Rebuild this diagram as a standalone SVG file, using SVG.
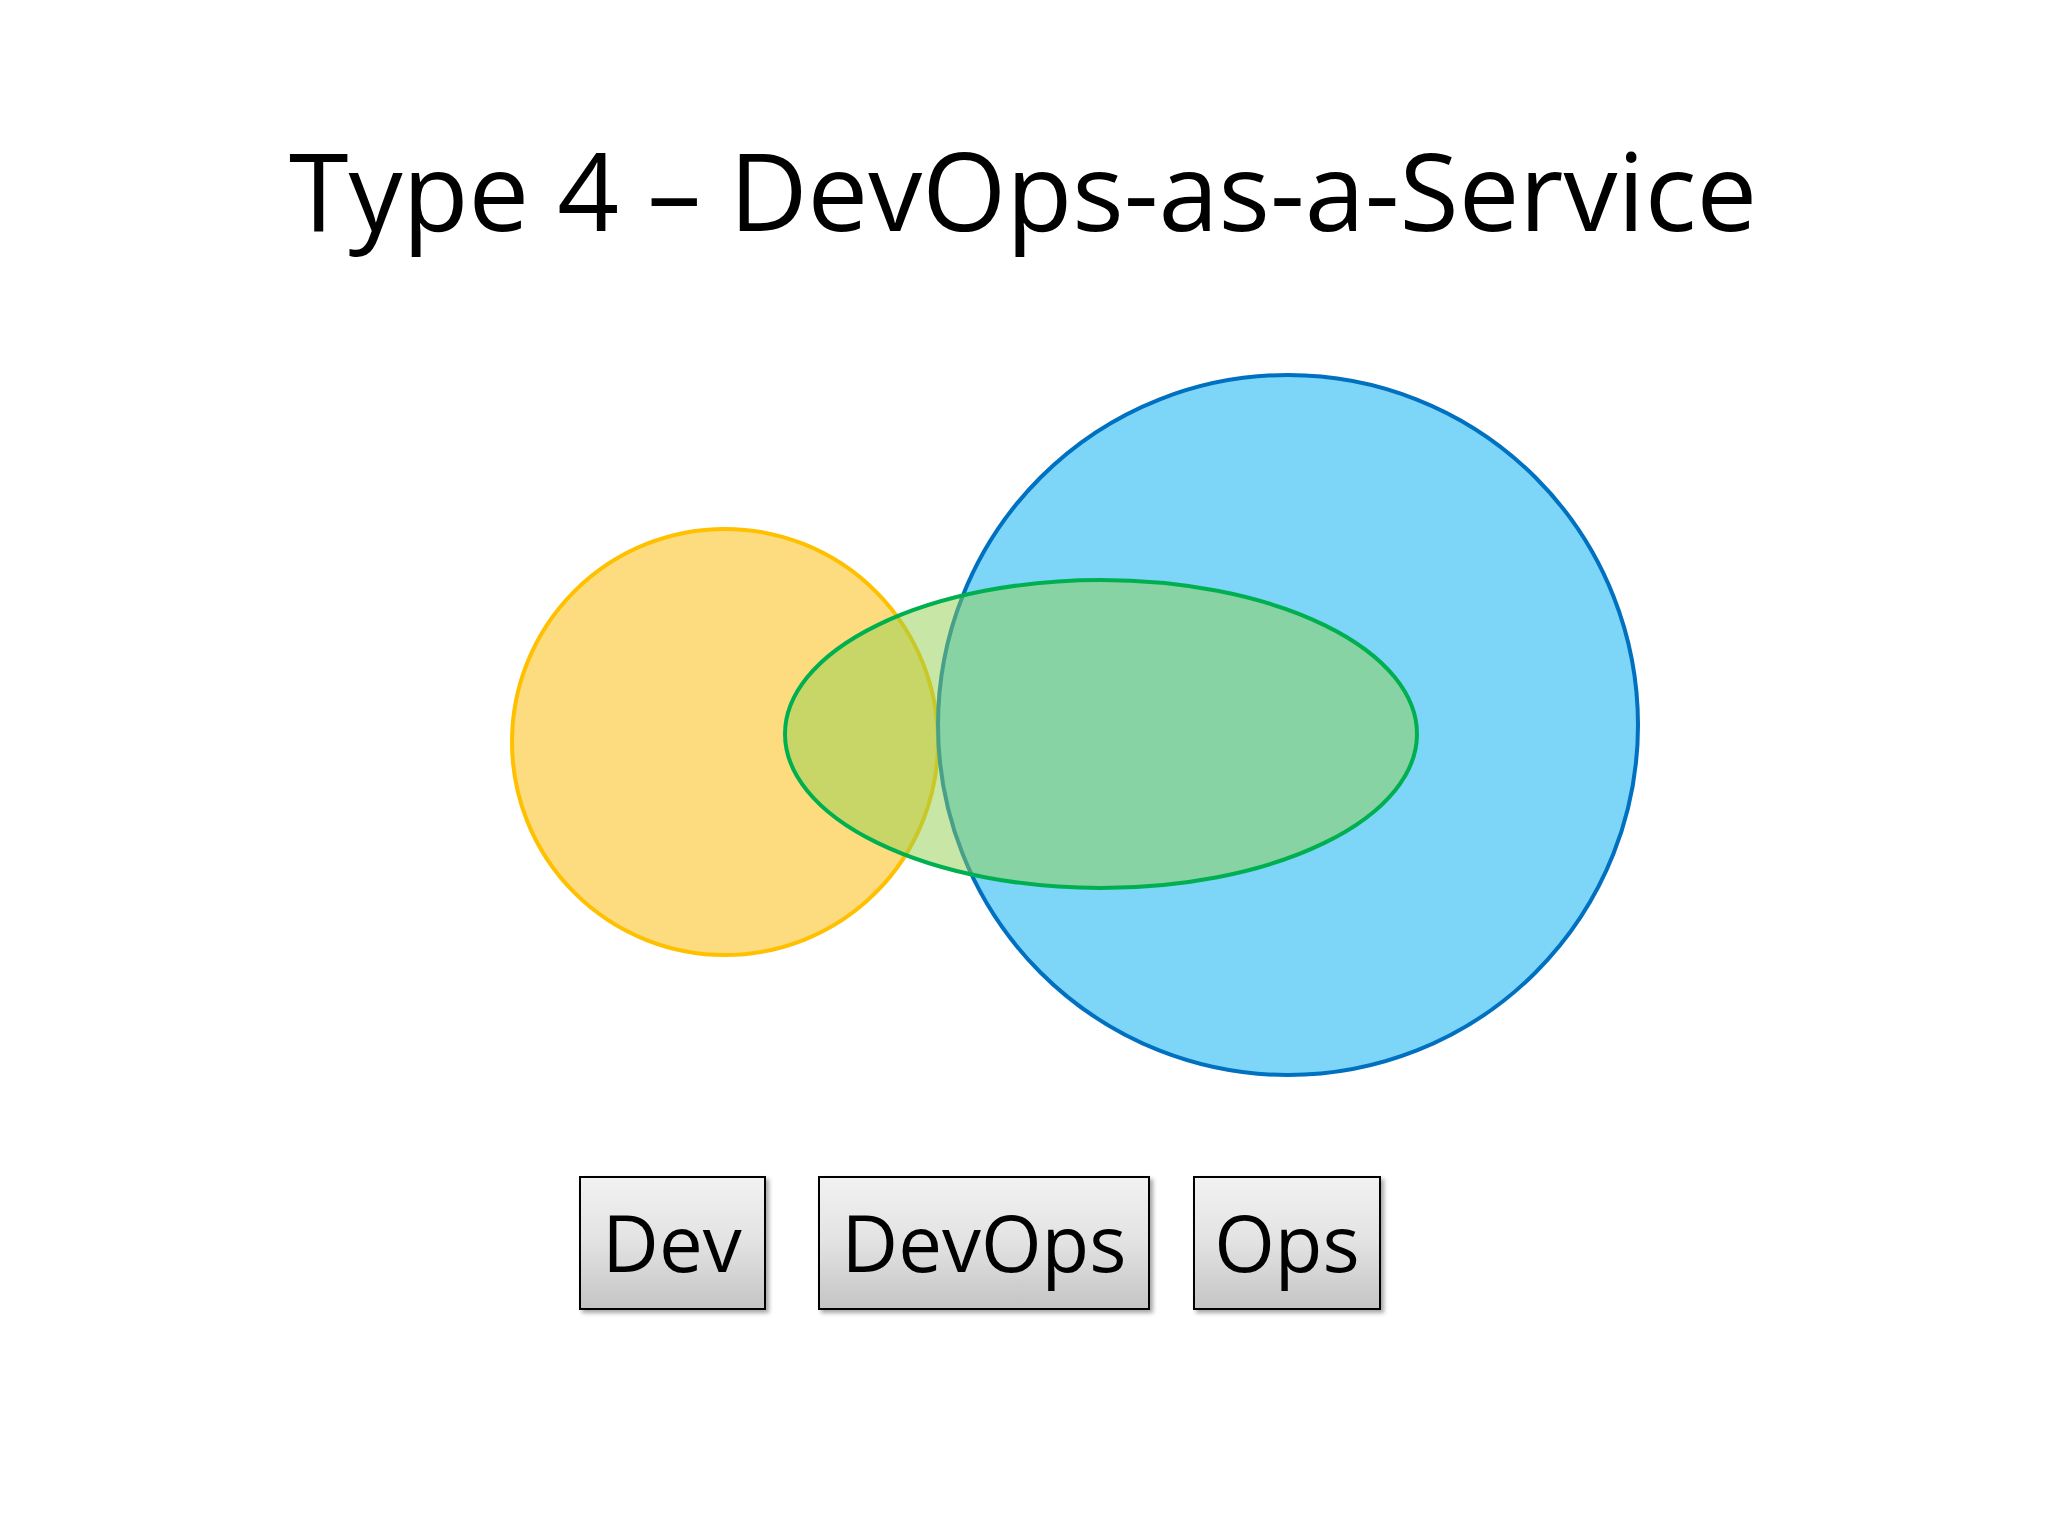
<svg xmlns="http://www.w3.org/2000/svg" width="2048" height="1536" viewBox="0 0 2048 1536">
<defs>
<linearGradient id="g" x1="0" y1="0" x2="0" y2="1"><stop offset="0" stop-color="#f2f2f2"/><stop offset="0.5" stop-color="#e2e2e2"/><stop offset="1" stop-color="#c4c4c4"/></linearGradient>
<filter id="sh" x="-10%" y="-10%" width="130%" height="130%"><feDropShadow dx="3" dy="3" stdDeviation="2" flood-color="#000" flood-opacity="0.35"/></filter>
</defs>
<style>
.lbl{font-family:"Open Sans","Liberation Sans",sans-serif;font-size:78px;fill:#000;text-anchor:middle}
.box{fill:url(#g);stroke:#000;stroke-width:2;filter:url(#sh)}
</style>
<rect width="2048" height="1536" fill="#fff"/>
<text x="1023" y="231" font-family="Open Sans,Liberation Sans,sans-serif" font-size="108" text-anchor="middle" fill="#000">Type 4 – DevOps-as-a-Service</text>
<g id="dev-circle"><circle cx="725" cy="742" r="213" fill="#FCDC7E" stroke="#FFC000" stroke-width="4"/></g>
<g id="ops-circle"><circle cx="1288" cy="725" r="350" fill="#7DD6F8" stroke="#0070C0" stroke-width="4"/></g>
<g id="devops-ellipse"><ellipse cx="1101" cy="734" rx="316" ry="154" fill="#92D050" fill-opacity="0.5" stroke="#00B050" stroke-width="4"/></g>
<g id="connectors"></g>
<g id="dev-box"><rect class="box" x="580" y="1177" width="185" height="132"/><text class="lbl" x="672" y="1272">Dev</text></g>
<g id="devops-box"><rect class="box" x="819" y="1177" width="330" height="132"/><text class="lbl" x="984" y="1272">DevOps</text></g>
<g id="ops-box"><rect class="box" x="1194" y="1177" width="186" height="132"/><text class="lbl" x="1287" y="1272">Ops</text></g>
</svg>
